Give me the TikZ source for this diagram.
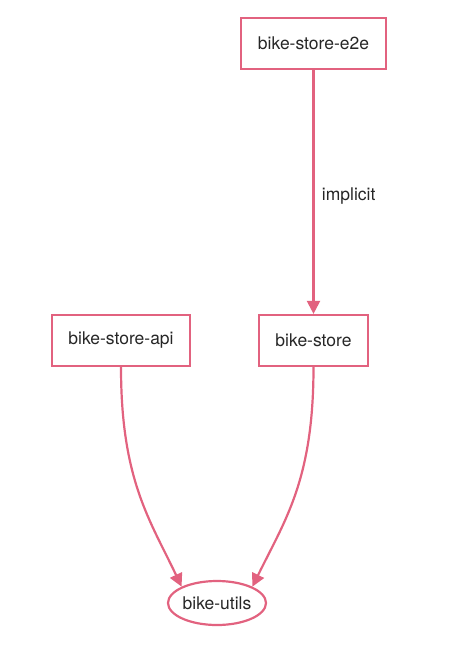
\documentclass[tikz,border=0pt]{standalone}
\usepackage{fontspec}
\setmainfont{TeX Gyre Heros}
\usetikzlibrary{arrows.meta,shapes.geometric}
\definecolor{edgepink}{HTML}{E2627F}
\tikzset{
  box/.style={draw=edgepink, line width=2.2pt, rectangle, minimum height=51pt, inner sep=2pt, font=\fontsize{17.5pt}{20pt}\selectfont, text=black!85},
  oval/.style={draw=edgepink, line width=2.2pt, ellipse, minimum width=98pt, minimum height=44pt, inner sep=0pt, font=\fontsize{17.5pt}{20pt}\selectfont, text=black!85},
  dep/.style={draw=edgepink, line width=2.2pt, -{Triangle[length=13pt,width=13pt]}},
  lbl/.style={font=\fontsize{17.5pt}{20pt}\selectfont, text=black!85}
}
\begin{document}
\begin{tikzpicture}[x=1pt,y=-1pt]
\useasboundingbox (0,0) rectangle (474,665);
\node[box, minimum width=145pt] (e2e) at (313.5,43.5) {bike-store-e2e};
\node[box, minimum width=138pt] (api) at (121,340.5) {bike-store-api};
\node[box, minimum width=109pt] (store) at (313.5,340.5) {bike-store};
\node[oval] (utils) at (217,603) {bike-utils};
\draw[dep] (e2e.south) -- node[lbl, right, xshift=4pt, yshift=-4pt] {implicit} (store.north);
\draw[dep] (api.south) .. controls (121,480) and (150,520) .. (utils.north west);
\draw[dep] (store.south) .. controls (313.5,480) and (285,520) .. (utils.north east);
\end{tikzpicture}
\end{document}
